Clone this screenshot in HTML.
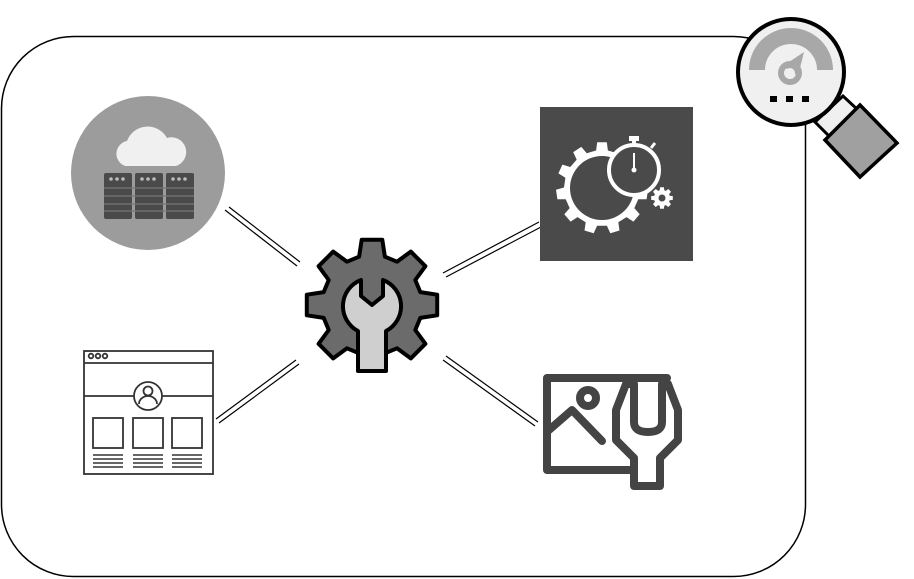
<!DOCTYPE html>
<html><head><meta charset="utf-8"><style>
html,body{margin:0;padding:0;background:#fff;}
svg{display:block}
</style></head><body>
<svg width="914" height="579" viewBox="0 0 914 579" xmlns="http://www.w3.org/2000/svg">
<rect x="1.5" y="36.5" width="804" height="540" rx="72" ry="72" fill="none" stroke="#000" stroke-width="1.5"/>
<g stroke="#000" stroke-width="1.2" fill="none">
<line x1="225" y1="210" x2="297" y2="266"/><line x1="229" y1="207" x2="300" y2="262"/>
<line x1="216" y1="419" x2="296" y2="360"/><line x1="219" y1="423" x2="299" y2="364"/>
<line x1="443" y1="273" x2="539" y2="222"/><line x1="446" y1="277" x2="541" y2="227"/>
<line x1="443" y1="360" x2="535" y2="426"/><line x1="446" y1="356" x2="538" y2="422"/>
</g>
<circle cx="148" cy="173" r="77" fill="#9c9c9c"/>
<path d="M125 166 a13 13 0 0 1 2 -25 a22 22 0 0 1 40 -3 a14 14 0 0 1 9 28 z" fill="#f0f0f0"/>
<g fill="#4a4a4a">
<rect x="104" y="173" width="28" height="46" rx="2"/>
<rect x="135" y="173" width="28" height="46" rx="2"/>
<rect x="166" y="173" width="28" height="46" rx="2"/>
</g>
<g stroke="#777" stroke-width="1.2">
<line x1="104" y1="188" x2="194" y2="188"/><line x1="104" y1="196" x2="194" y2="196"/><line x1="104" y1="204" x2="194" y2="204"/><line x1="104" y1="211" x2="194" y2="211"/>
</g>
<g fill="#bbb"><circle cx="111" cy="179" r="1.8"/><circle cx="117" cy="179" r="1.8"/><circle cx="123" cy="179" r="1.8"/><circle cx="142" cy="179" r="1.8"/><circle cx="148" cy="179" r="1.8"/><circle cx="154" cy="179" r="1.8"/><circle cx="173" cy="179" r="1.8"/><circle cx="179" cy="179" r="1.8"/><circle cx="185" cy="179" r="1.8"/></g>
<g fill="none" stroke="#333" stroke-width="1.8">
<rect x="84" y="351" width="129" height="123"/>
<line x1="84" y1="363" x2="213" y2="363"/>
<line x1="84" y1="396" x2="134" y2="396"/><line x1="162" y1="396" x2="213" y2="396"/>
<circle cx="148" cy="396" r="14"/>
<circle cx="148" cy="391" r="4.5"/>
<path d="M139 404 a9 8 0 0 1 18 0"/>
<rect x="93" y="418" width="30" height="30"/><rect x="133" y="418" width="30" height="30"/><rect x="172" y="418" width="30" height="30"/>
<circle cx="91" cy="356" r="2.3"/><circle cx="98" cy="356" r="2.3"/><circle cx="105" cy="356" r="2.3"/>
</g>
<g stroke="#333" stroke-width="1.4">
<line x1="93" y1="455" x2="123" y2="455"/><line x1="93" y1="459" x2="123" y2="459"/><line x1="93" y1="463" x2="123" y2="463"/><line x1="93" y1="467" x2="123" y2="467"/>
<line x1="133" y1="455" x2="163" y2="455"/><line x1="133" y1="459" x2="163" y2="459"/><line x1="133" y1="463" x2="163" y2="463"/><line x1="133" y1="467" x2="163" y2="467"/>
<line x1="172" y1="455" x2="202" y2="455"/><line x1="172" y1="459" x2="202" y2="459"/><line x1="172" y1="463" x2="202" y2="463"/><line x1="172" y1="467" x2="202" y2="467"/>
</g>
<polygon id="gear" fill="#6b6b6b" stroke="#000" stroke-width="4" stroke-linejoin="round" points=""/>
<path d="M361 280 L361 296 L372 305 L383 296 L383 280 A28 28 0 0 1 386 331 L386 371 L358 371 L358 331 A28 28 0 0 1 361 280 Z" fill="#cfcfcf" stroke="#000" stroke-width="4" stroke-linejoin="round"/>
<rect x="540" y="107" width="153" height="154" fill="#4a4a4a"/>
<polygon id="gear2" fill="#fff" points=""/>
<circle cx="602" cy="188" r="32" fill="#4a4a4a"/>
<circle cx="634" cy="170" r="25" fill="#4a4a4a" stroke="#fff" stroke-width="4"/>
<rect x="629" y="136" width="10" height="5" fill="#fff"/><rect x="632" y="140" width="4" height="6" fill="#fff"/>
<line x1="634" y1="153" x2="634" y2="170" stroke="#fff" stroke-width="2"/><circle cx="634" cy="170" r="2.5" fill="#fff"/>
<line x1="651" y1="148" x2="655" y2="143" stroke="#fff" stroke-width="3"/>
<polygon id="gear3" fill="#fff" points=""/>
<circle cx="662" cy="198" r="3.5" fill="#4a4a4a"/>
<g fill="none" stroke="#444" stroke-width="8" stroke-linejoin="round" stroke-linecap="round">
<path d="M632 470 L547 470 L547 378 L667 378"/>
<path d="M549 430 L572 410 L602 441"/>
<circle cx="588" cy="398" r="8"/>
<path d="M626 384 L616 410 L616 440 L634 458 L634 486 L660 486 L660 458 L678 440 L678 410 L668 384 L662 384 L662 422 Q662 432 648 432 Q634 432 634 422 L634 384 Z"/>
</g>
<path d="M815 122 L843 96 L858 110 L830 137 Z" fill="#f0f0f0" stroke="#000" stroke-width="3"/>
<path d="M860 105 L897 143 L860 177 L825 140 Z" fill="#a0a0a0" stroke="#000" stroke-width="3.5"/>
<circle cx="791" cy="72" r="53" fill="#f0f0f0" stroke="#000" stroke-width="4"/>
<path d="M757 70 A34 34 0 0 1 825 70" fill="none" stroke="#a8a8a8" stroke-width="16"/>
<circle cx="790" cy="73" r="9" fill="none" stroke="#a8a8a8" stroke-width="6"/>
<path d="M783 66 L804 52 L798 76 Z" fill="#a8a8a8"/>
<circle cx="790" cy="73" r="5" fill="#f0f0f0"/>
<rect x="770" y="96" width="7" height="6" fill="#000"/><rect x="786" y="96" width="7" height="6" fill="#000"/><rect x="802" y="96" width="7" height="6" fill="#000"/>
</svg>
<script>
function gear(cx,cy,R,r,n,tw,bw){var p=[],s=360/n;for(var i=0;i<n;i++){var a=-90+i*s;[[a-bw,r],[a-tw,R],[a+tw,R],[a+bw,r]].forEach(function(q){var t=q[0]*Math.PI/180;p.push((cx+q[1]*Math.cos(t)).toFixed(1)+","+(cy+q[1]*Math.sin(t)).toFixed(1));});}return p.join(" ");}
document.getElementById("gear").setAttribute("points",gear(372,305,66,50,8,9,15));
document.getElementById("gear2").setAttribute("points",gear(602,188,46,38,11,6,9));
document.getElementById("gear3").setAttribute("points",gear(662,198,11,8,8,10,17));
</script>
</body></html>
